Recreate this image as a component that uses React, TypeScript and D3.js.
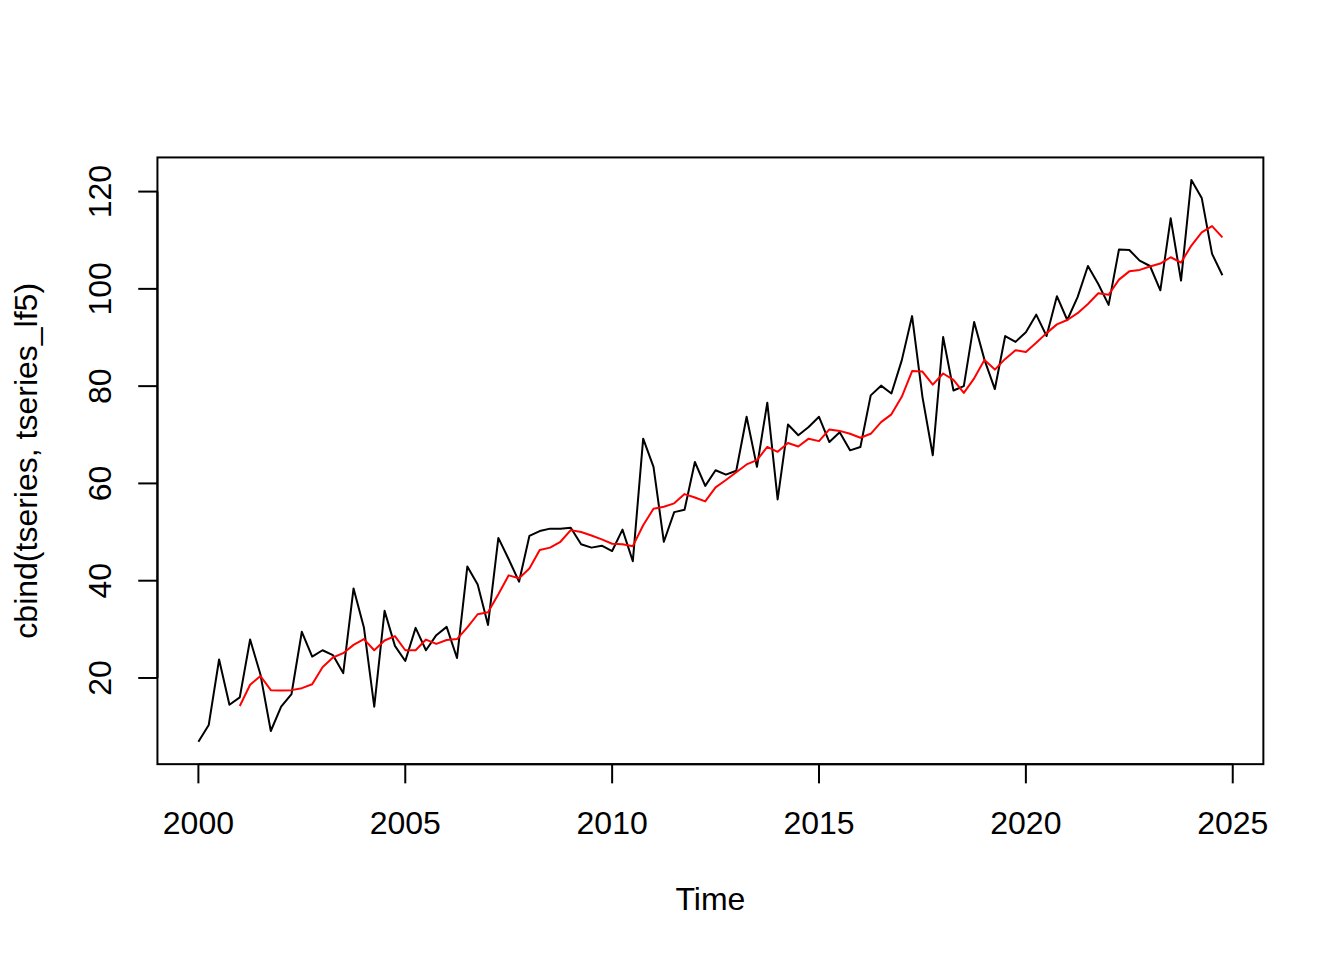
import React from "react";
import * as d3 from "d3";

// Quarterly series, starting 2000 Q1
const startYear = 2000;
const frequency = 4;
const tseries: number[] = [
  6.9, 10.35, 23.8, 14.5, 16.0, 27.9, 20.7, 9.1, 14.1, 16.7,
  29.5, 24.4, 25.7, 24.7, 21.0, 38.4, 30.4, 14.1, 33.8, 26.6,
  23.5, 30.3, 25.7, 28.8, 30.5, 24.1, 42.9, 39.2, 30.9, 48.8,
  44.4, 39.8, 49.2, 50.2, 50.7, 50.7, 50.9, 47.5, 46.8, 47.2,
  46.1, 50.5, 44.0, 69.2, 63.4, 48.0, 54.1, 54.6, 64.4, 59.5,
  62.7, 61.8, 62.6, 73.7, 63.4, 76.6, 56.7, 72.1, 69.9, 71.6,
  73.7, 68.5, 70.5, 66.8, 67.5, 78.1, 80.1, 78.5, 85.3, 94.4,
  77.8, 65.8, 90.1, 79.1, 80.0, 93.2, 85.4, 79.4, 90.3, 89.1,
  91.1, 94.7, 90.3, 98.5, 93.6, 98.3, 104.7, 101.0, 96.7, 108.1,
  108.0, 105.8, 104.7, 99.7, 114.5, 101.7, 122.4, 118.7, 107.2, 102.8,
];

// Lagged/smoothed series, starting 2001 Q1 (offset of 4 quarters)
const lfOffset = 4;
const tseries_lf5: number[] = [
  14.25, 18.6, 20.4, 17.5, 17.4, 17.5, 17.9, 18.7, 22.2, 24.2,
  25.1, 26.8, 28.0, 25.7, 27.7, 28.6, 25.7, 25.7, 27.9, 27.0,
  27.8, 28.0, 30.4, 33.1, 33.5, 37.2, 41.1, 40.5, 42.5, 46.3,
  46.8, 48.0, 50.4, 50.0, 49.3, 48.5, 47.6, 47.5, 47.1, 51.4,
  54.8, 55.2, 55.9, 57.8, 57.1, 56.3, 59.2, 60.7, 62.3, 63.9,
  64.8, 67.5, 66.5, 68.3, 67.6, 69.2, 68.7, 71.1, 70.8, 70.2,
  69.4, 70.2, 72.6, 74.2, 77.8, 83.1, 83.0, 80.3, 82.6, 81.3,
  78.6, 81.6, 85.4, 83.4, 85.6, 87.4, 87.0, 88.9, 90.9, 92.7,
  93.6, 95.0, 96.9, 99.1, 98.8, 101.9, 103.6, 103.9, 104.6, 105.2,
  106.5, 105.4, 108.9, 111.6, 112.9, 110.6,
];

const xTicks = [2000, 2005, 2010, 2015, 2020, 2025];
const yTicks = [20, 40, 60, 80, 100, 120];
const xLabel = "Time";
const yLabel = "cbind(tseries, tseries_lf5)";

const W = 1344;
const H = 960;
const LINE = 38.4;
const margin = { top: 4.1 * LINE, right: 2.1 * LINE, bottom: 5.1 * LINE, left: 4.1 * LINE };
const FONT = '"Liberation Sans", Arial, Helvetica, sans-serif';
const FS = 32;

type Pt = { t: number; v: number };

export default function App() {
  const blackPts: Pt[] = tseries.map((v, i) => ({ t: startYear + i / frequency, v }));
  const redPts: Pt[] = tseries_lf5.map((v, i) => ({ t: startYear + (i + lfOffset) / frequency, v }));

  const tExt = d3.extent(blackPts.concat(redPts), (d) => d.t) as [number, number];
  const vExt = d3.extent(blackPts.concat(redPts), (d) => d.v) as [number, number];
  const tPad = (tExt[1] - tExt[0]) * 0.04;
  const vPad = (vExt[1] - vExt[0]) * 0.04;

  const x0 = margin.left;
  const x1 = W - margin.right;
  const y0 = H - margin.bottom;
  const y1 = margin.top;

  const x = d3.scaleLinear().domain([tExt[0] - tPad, tExt[1] + tPad]).range([x0, x1]);
  const y = d3.scaleLinear().domain([vExt[0] - vPad, vExt[1] + vPad]).range([y0, y1]);

  const line = d3
    .line<Pt>()
    .x((d) => x(d.t))
    .y((d) => y(d.v));

  const tick = 0.5 * LINE;

  return (
    <svg
      width={W}
      height={H}
      style={{ position: "absolute", left: 0, top: 0, background: "#fff" }}
      fontFamily={FONT}
    >
      <rect x={0} y={0} width={W} height={H} fill="#fff" />
      <path d={line(blackPts) || ""} fill="none" stroke="#000" strokeWidth={2} strokeLinejoin="round" />
      <path d={line(redPts) || ""} fill="none" stroke="#ff0000" strokeWidth={2} strokeLinejoin="round" />
      <rect x={x0} y={y1} width={x1 - x0} height={y0 - y1} fill="none" stroke="#000" strokeWidth={2} />

      {/* x axis */}
      <line x1={x(xTicks[0])} x2={x(xTicks[xTicks.length - 1])} y1={y0} y2={y0} stroke="#000" strokeWidth={2} />
      {xTicks.map((t) => (
        <g key={"xt" + t}>
          <line x1={x(t)} x2={x(t)} y1={y0} y2={y0 + tick} stroke="#000" strokeWidth={2} />
          <text x={x(t)} y={833.5} textAnchor="middle" fontSize={FS} fill="#000">
            {t}
          </text>
        </g>
      ))}

      {/* y axis */}
      <line x1={x0} x2={x0} y1={y(yTicks[0])} y2={y(yTicks[yTicks.length - 1])} stroke="#000" strokeWidth={2} />
      {yTicks.map((v) => (
        <g key={"yt" + v}>
          <line x1={x0 - tick} x2={x0} y1={y(v)} y2={y(v)} stroke="#000" strokeWidth={2} />
          <text
            transform={`translate(${110.5},${y(v)}) rotate(-90)`}
            textAnchor="middle"
            fontSize={FS}
            fill="#000"
          >
            {v}
          </text>
        </g>
      ))}

      <text x={(x0 + x1) / 2} y={910} textAnchor="middle" fontSize={FS} fill="#000">
        {xLabel}
      </text>
      <text
        transform={`translate(${37},${(y0 + y1) / 2}) rotate(-90)`}
        textAnchor="middle"
        fontSize={FS}
        fill="#000"
      >
        {yLabel}
      </text>
    </svg>
  );
}
